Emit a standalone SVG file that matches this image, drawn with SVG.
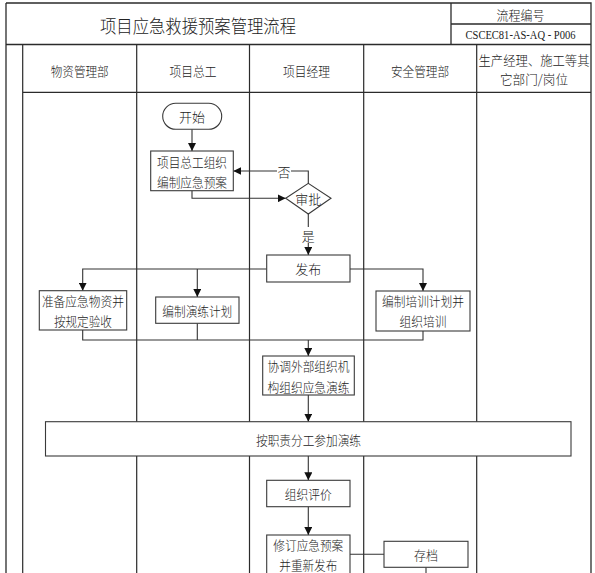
<svg xmlns="http://www.w3.org/2000/svg" width="595" height="573" viewBox="0 0 595 573">
<style>
.frame{stroke:#2b2b2b;stroke-width:1.3;fill:none}
.lane{stroke:#2b2b2b;stroke-width:1.2;fill:none}
.box{fill:#fff;stroke:#3a3a3a;stroke-width:1.1}
.conn{fill:none;stroke:#333;stroke-width:1.1}
text{font-family:"Noto Sans CJK SC","Noto Sans",sans-serif;font-weight:300;fill:#222;font-size:13px;text-anchor:middle;dominant-baseline:central}
.title{font-size:18px}
.code{font-family:"Liberation Serif",serif;font-weight:400;font-size:12px}
</style>
<defs>
<marker id="arr" markerUnits="userSpaceOnUse" markerWidth="9" markerHeight="8" refX="8" refY="4" orient="auto">
<path d="M0,0 L8,4 L0,8 z" fill="#111"/>
</marker>
</defs>
<rect width="595" height="573" fill="#fff"/>
<g id="frame">
<path class="frame" d="M6,3 H591 V573 M6,3 V573 M6,44.5 H591 M451,3 V44.5 M451,24 H591"/>
<path class="lane" d="M22.7,44.5 V573 M136.7,44.5 V573 M249.5,44.5 V573 M363.7,44.5 V573 M476.7,44.5 V573 M22.7,92.3 H591"/>
<text class="title" x="198" y="25" textLength="196" lengthAdjust="spacingAndGlyphs">项目应急救援预案管理流程</text>
<text x="520.5" y="14.5" textLength="48" lengthAdjust="spacingAndGlyphs">流程编号</text>
<text class="code" x="520.5" y="34.5" textLength="110" lengthAdjust="spacingAndGlyphs">CSCEC81-AS-AQ - P006</text>
<text x="79.7" y="70" textLength="58" lengthAdjust="spacingAndGlyphs">物资管理部</text>
<text x="193" y="70" textLength="47" lengthAdjust="spacingAndGlyphs">项目总工</text>
<text x="306.5" y="70" textLength="47" lengthAdjust="spacingAndGlyphs">项目经理</text>
<text x="420" y="70" textLength="58" lengthAdjust="spacingAndGlyphs">安全管理部</text>
<text x="534" y="59.5" textLength="111" lengthAdjust="spacingAndGlyphs">生产经理、施工等其</text>
<text x="534" y="78" textLength="68" lengthAdjust="spacingAndGlyphs">它部门/岗位</text>
</g>
<g id="connectors">
<path class="conn" d="M192,129.3 V151" marker-end="url(#arr)"/>
<path class="conn" d="M192,190.7 V198.3 H285.7" marker-end="url(#arr)"/>
<path class="conn" d="M308.3,183.3 V171 H233.3" marker-end="url(#arr)"/>
<path class="conn" d="M308.3,214 V255" marker-end="url(#arr)"/>
<path class="conn" d="M266.7,269 H82.7 V290.7" marker-end="url(#arr)"/>
<path class="conn" d="M197.3,269 V297" marker-end="url(#arr)"/>
<path class="conn" d="M350,269 H423 V291" marker-end="url(#arr)"/>
<path class="conn" d="M82.7,330 V340 H423 V331 M197.3,323.3 V340"/>
<path class="conn" d="M308.3,340 V356" marker-end="url(#arr)"/>
<path class="conn" d="M308.3,395 V421.7" marker-end="url(#arr)"/>
<path class="conn" d="M308.3,456 V480.3" marker-end="url(#arr)"/>
<path class="conn" d="M308.3,506.7 V535" marker-end="url(#arr)"/>
<path class="conn" d="M350,554.3 H384 M426,567.3 V574"/>
<rect x="277" y="163" width="14" height="16" fill="#fff"/>
<text x="284" y="171">否</text>
<rect x="301" y="227" width="14" height="16" fill="#fff"/>
<text x="308.3" y="235">是</text>
</g>
<g id="start">
<rect class="box" x="162.7" y="103.3" width="59" height="26" rx="13" ry="13"/>
<text x="192" y="116.3">开始</text>
</g>
<g id="draft">
<rect class="box" x="150.7" y="151" width="82.6" height="39.7"/>
<text x="192" y="161.7" textLength="70" lengthAdjust="spacingAndGlyphs">项目总工组织</text>
<text x="192" y="181" textLength="70" lengthAdjust="spacingAndGlyphs">编制应急预案</text>
</g>
<g id="approve">
<path class="box" d="M285.7,198.3 L308.3,183.3 L331,198.3 L308.3,214 Z"/>
<text x="308.3" y="198.5">审批</text>
</g>
<g id="publish">
<rect class="box" x="266.7" y="255" width="83.3" height="27"/>
<text x="308.3" y="268.5">发布</text>
</g>
<g id="materials">
<rect class="box" x="39.3" y="290.7" width="87.4" height="39.3"/>
<text x="82.9" y="300.7" textLength="82" lengthAdjust="spacingAndGlyphs">准备应急物资并</text>
<text x="82.9" y="320.7" textLength="58" lengthAdjust="spacingAndGlyphs">按规定验收</text>
</g>
<g id="drillplan">
<rect class="box" x="155.7" y="297" width="83.3" height="26.3"/>
<text x="197.3" y="310.5" textLength="70" lengthAdjust="spacingAndGlyphs">编制演练计划</text>
</g>
<g id="training">
<rect class="box" x="376" y="291" width="94" height="40"/>
<text x="423" y="300.7" textLength="82" lengthAdjust="spacingAndGlyphs">编制培训计划并</text>
<text x="423" y="320.5" textLength="47" lengthAdjust="spacingAndGlyphs">组织培训</text>
</g>
<g id="coordinate">
<rect class="box" x="262.7" y="356" width="91.6" height="39"/>
<text x="308.5" y="365.7" textLength="82" lengthAdjust="spacingAndGlyphs">协调外部组织机</text>
<text x="308.5" y="386.5" textLength="82" lengthAdjust="spacingAndGlyphs">构组织应急演练</text>
</g>
<g id="drill">
<rect class="box" x="45.5" y="421.7" width="525.5" height="34.3"/>
<text x="308.5" y="439.3" textLength="105" lengthAdjust="spacingAndGlyphs">按职责分工参加演练</text>
</g>
<g id="evaluate">
<rect class="box" x="266.7" y="480.3" width="83.3" height="26.4"/>
<text x="308.3" y="493.5" textLength="47" lengthAdjust="spacingAndGlyphs">组织评价</text>
</g>
<g id="revise">
<rect class="box" x="266.7" y="535" width="83.3" height="42"/>
<text x="308.3" y="544.3" textLength="70" lengthAdjust="spacingAndGlyphs">修订应急预案</text>
<text x="308.3" y="564" textLength="58" lengthAdjust="spacingAndGlyphs">并重新发布</text>
</g>
<g id="archive">
<rect class="box" x="384" y="541.3" width="84" height="26"/>
<text x="426" y="554.3" textLength="24" lengthAdjust="spacingAndGlyphs">存档</text>
</g>
</svg>
